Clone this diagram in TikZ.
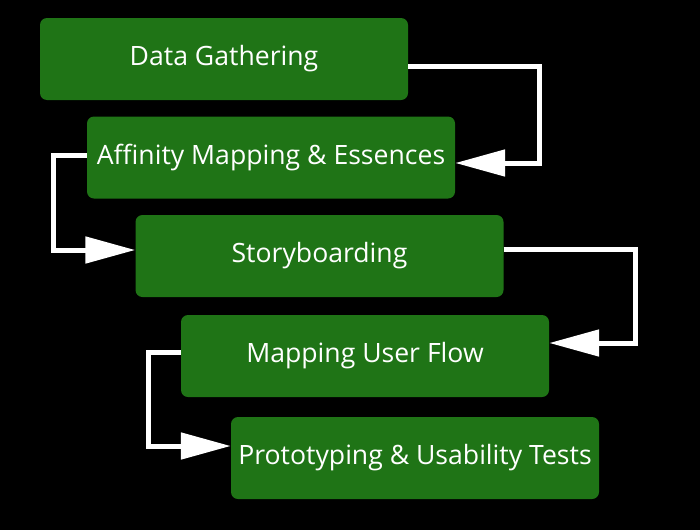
\documentclass[tikz,border=0pt]{standalone}
\usepackage{fontspec}
\setmainfont{Open Sans}
\usetikzlibrary{arrows.meta}
\definecolor{boxgreen}{RGB}{31,116,22}
\begin{document}
\begin{tikzpicture}[x=1pt,y=-1pt,
  stagebox/.style={fill=boxgreen, rounded corners=7pt, minimum width=368pt, minimum height=82pt, inner sep=0pt, text=white, font=\fontsize{26.6}{30}\selectfont},
  flow/.style={draw=white, line width=5pt, -{Triangle[length=50pt,width=26pt]}}]
\fill[black] (0,0) rectangle (700,530);
\useasboundingbox (0,0) rectangle (700,530);
\node[stagebox] (b1) at (224,59) {Data Gathering};
\node[stagebox] (b2) at (271,157.5) {Affinity Mapping \& Essences};
\node[stagebox] (b3) at (319.5,256) {Storyboarding};
\node[stagebox] (b4) at (365,356) {Mapping User Flow};
\node[stagebox] (b5) at (415,458) {Prototyping \& Usability Tests};
\coordinate (c1a) at (539,66);
\coordinate (c1b) at (539,163);
\coordinate (c2a) at (53,155);
\coordinate (c2b) at (53,250);
\coordinate (c3a) at (635,249);
\coordinate (c3b) at (635,343);
\coordinate (c4a) at (148,352);
\coordinate (c4b) at (148,446);
\draw[flow] (b1.east |- c1a) -- (c1a) -- (c1b) -- (b2.east |- c1b);
\draw[flow] (b2.west |- c2a) -- (c2a) -- (c2b) -- (b3.west |- c2b);
\draw[flow] (b3.east |- c3a) -- (c3a) -- (c3b) -- (b4.east |- c3b);
\draw[flow] (b4.west |- c4a) -- (c4a) -- (c4b) -- (b5.west |- c4b);
\end{tikzpicture}
\end{document}
